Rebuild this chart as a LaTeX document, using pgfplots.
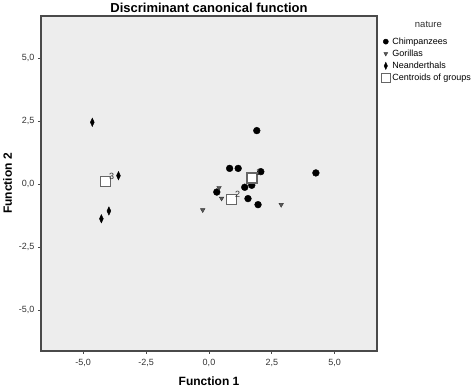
\documentclass[border=0pt]{standalone}
\usepackage{pgfplots}
\pgfplotsset{compat=1.18}
\usepackage{fontspec}
\setmainfont{Liberation Sans}
\definecolor{bg}{HTML}{EDEDED}
\definecolor{frame}{HTML}{4A4A4A}
\definecolor{txt}{HTML}{333333}
\begin{document}
\begin{tikzpicture}[x=1pt,y=1pt]
\useasboundingbox (-41,-36) rectangle (433,351);
\begin{axis}[
  at={(0,0)}, anchor=south west,
  scale only axis, width=336pt, height=335pt,
  xmin=-6.68, xmax=6.68, ymin=-6.63, ymax=6.67,
  axis background/.style={fill=bg},
  axis line style={frame, line width=1.1pt},
  xtick={-5,-2.5,0,2.5,5}, ytick={-5,-2.5,0,2.5,5},
  xticklabels={{-5,0},{-2,5},{0,0},{2,5},{5,0}},
  yticklabels={{-5,0},{-2,5},{0,0},{2,5},{5,0}},
  tick label style={font=\fontsize{9}{10}\selectfont, text=txt},
  xticklabel style={yshift=-2pt},
  tick align=outside, tick pos=left,
  major tick length=3pt,
  tick style={frame, line width=0.8pt},
  title={\fontsize{13}{15}\selectfont\bfseries Discriminant canonical function},
  title style={yshift=-6pt},
  xlabel={\fontsize{12}{14}\selectfont\bfseries Function 1},
  ylabel={\fontsize{12}{14}\selectfont\bfseries Function 2},
  xlabel style={yshift=-3pt},
  ylabel style={yshift=0pt},
  legend style={at={(rel axis cs:1,0.945)}, anchor=north west, draw=none, fill=none,
    font=\fontsize{9}{10}\selectfont, row sep=0.1pt, inner sep=1pt,
    cells={anchor=west}, xshift=3pt},
  legend image code/.code={\draw[mark repeat=2,mark phase=2] plot coordinates {(0pt,0pt)(5pt,0pt)(10pt,0pt)};},
  clip=false,
]
\addplot[only marks, mark=*, mark size=3.4pt, black, legend image post style={mark size=2.6pt}] table {
x y
1.90 2.12
0.82 0.62
1.16 0.62
2.06 0.49
4.25 0.44
1.70 -0.05
1.42 -0.13
0.31 -0.32
1.55 -0.58
1.95 -0.82
};
\addlegendentry{Chimpanzees}
\addplot[only marks, mark=triangle*, mark size=2.6pt, mark options={rotate=180, fill=gray!70!black, draw=black!80, line width=0.4pt}, legend image post style={mark size=2.2pt}] table {
x y
-0.25 -1.03
0.40 -0.15
0.50 -0.57
2.87 -0.82
};
\addlegendentry{Gorillas}
\addplot[only marks, mark=diamond*, mark size=4.2pt, mark options={xscale=0.62, fill=black, draw=black}, legend image post style={mark size=3.6pt}] table {
x y
-4.64 2.45
-3.60 0.33
-3.98 -1.07
-4.28 -1.38
};
\addlegendentry{Neanderthals}
\addplot[only marks, mark=square*, mark size=5pt, mark options={fill=white, draw=gray!80!black, line width=1.1pt},
  legend image post style={mark size=4.6pt, mark options={fill=white, draw=gray!80!black, line width=0.9pt}},
  nodes near coords, point meta=explicit symbolic,
  nodes near coords style={anchor=south west, font=\fontsize{9}{9}\selectfont, text=txt, inner sep=0.5pt, xshift=3pt, yshift=1pt}]
  table[meta=lab] {
x y lab
1.71 0.24 1
0.88 -0.63 2
-4.13 0.09 3
};
\addlegendentry{Centroids of groups}
\node[font=\fontsize{9.5}{10}\selectfont, text=txt] at (rel axis cs:1.153,0.974) {nature};
\end{axis}
\end{tikzpicture}
\end{document}
